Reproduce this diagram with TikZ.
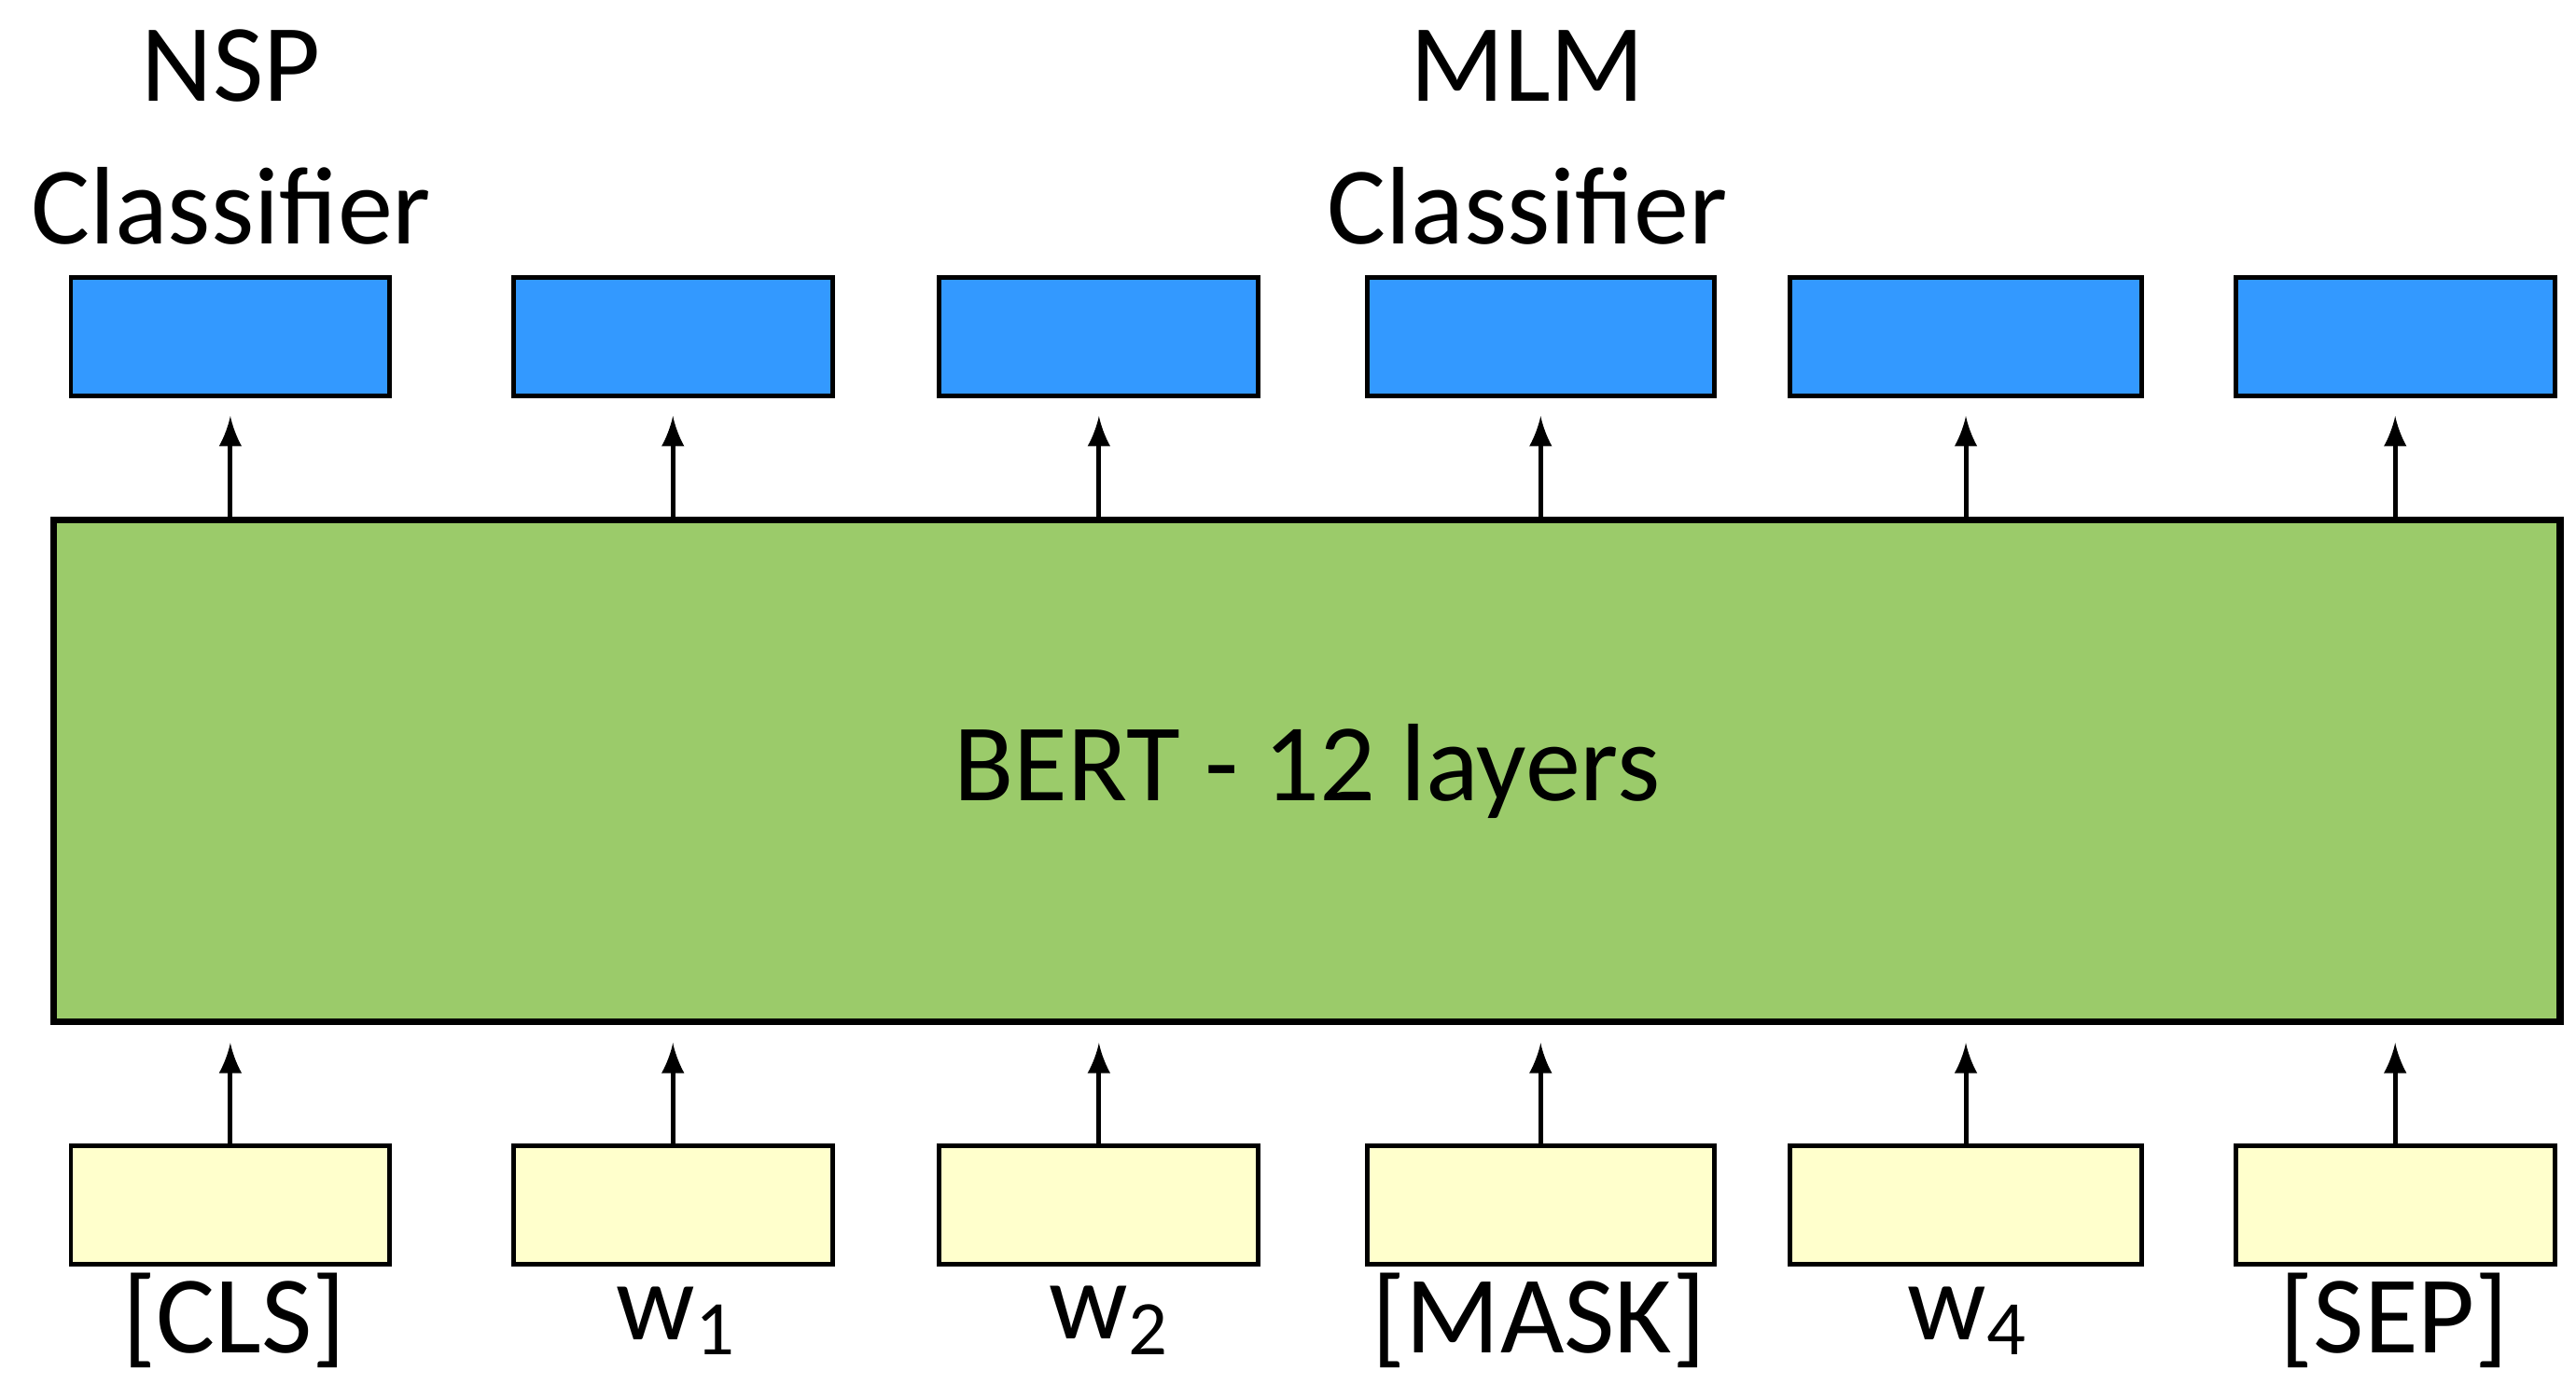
\documentclass[tikz,border=0pt]{standalone}
\usepackage{fontspec}
\setmainfont{Carlito}
\usetikzlibrary{positioning}
\definecolor{outblue}{HTML}{3399FF}
\definecolor{bertgreen}{HTML}{9BCB6A}
\definecolor{inyellow}{HTML}{FFFFCC}
\begin{document}
\begin{tikzpicture}[x=0.01cm, y=-0.01cm, -latex, thick,
  outbox/.style={draw, fill=outblue, minimum height=0.72cm, inner sep=0pt},
  inbox/.style={draw, fill=inyellow, minimum height=0.72cm, inner sep=0pt},
  lbl/.style={font=\fontsize{19}{22}\selectfont, inner sep=0pt}]
\useasboundingbox (0,0) rectangle (1560,847);
\node[draw, very thick, fill=bertgreen, minimum width=15.17cm, minimum height=3.04cm, font=\fontsize{19}{22}\selectfont] (bert) at (791.5,467) {BERT - 12 layers};
% outputs
\node[outbox, minimum width=1.93cm] (o1) at (139.5,204) {};
\node[outbox, minimum width=1.93cm] (o2) at (407.5,204) {};
\node[outbox, minimum width=1.93cm] (o3) at (665.5,204) {};
\node[outbox, minimum width=2.10cm] (o4) at (933,204) {};
\node[outbox, minimum width=2.13cm] (o5) at (1190.5,204) {};
\node[outbox, minimum width=1.93cm] (o6) at (1450.5,204) {};
% inputs
\node[inbox, minimum width=1.93cm] (i1) at (139.5,730) {};
\node[inbox, minimum width=1.93cm] (i2) at (407.5,730) {};
\node[inbox, minimum width=1.93cm] (i3) at (665.5,730) {};
\node[inbox, minimum width=2.10cm] (i4) at (933,730) {};
\node[inbox, minimum width=2.13cm] (i5) at (1190.5,730) {};
\node[inbox, minimum width=1.93cm] (i6) at (1450.5,730) {};
% labels
\node[lbl] (nsp) at (140,40) {NSP};
\node[lbl] (nspc) at (140,125) {Classifier};
\node[lbl] (mlm) at (925,40) {MLM};
\node[lbl] (mlmc) at (925,125) {Classifier};
\node[lbl] (l1) at (142,800) {[CLS]};
\node[lbl] (l2) at (410,800) {w\textsubscript{1}};
\node[lbl] (l3) at (672,800) {w\textsubscript{2}};
\node[lbl] (l4) at (932,800) {[MASK]};
\node[lbl] (l5) at (1192,800) {w\textsubscript{4}};
\node[lbl] (l6) at (1450,800) {[SEP]};
% arrows
\foreach \i in {1,...,6} {
  \draw (bert.north -| o\i.south) -- ([yshift=-3pt]o\i.south);
  \draw (i\i.north) -- ([yshift=-3pt]bert.south -| i\i.north);
}
\end{tikzpicture}
\end{document}
